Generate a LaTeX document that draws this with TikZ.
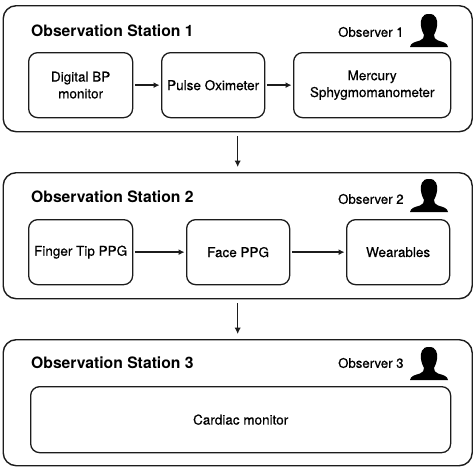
\documentclass[tikz,border=0pt]{standalone}
\usepackage{fontspec}
\setmainfont{TeX Gyre Heros}
\newfontfamily\medfont[FakeBold=0.5]{TeX Gyre Heros}
\usetikzlibrary{arrows.meta}
\definecolor{ink}{HTML}{1C1C1C}
\tikzset{
  station/.style={draw=ink,line width=1.4pt,rounded corners=13pt,inner sep=0pt,minimum width=#1,minimum height=126pt,anchor=north west},
  device/.style={draw=ink,line width=1.3pt,rounded corners=9pt,inner sep=0pt,align=center,font=\medfont\fontsize{13.5}{16.8}\selectfont,text=black,anchor=north west,minimum height=65pt},
  title/.style={font=\bfseries\fontsize{15.7}{18}\selectfont,anchor=west,inner sep=0pt,text=black},
  obs/.style={font=\medfont\fontsize{13.2}{15}\selectfont,anchor=west,inner sep=0pt,text=black},
  flow/.style={draw=ink,line width=1.4pt,-{Latex[length=6pt,width=6pt]},shorten <=1.5pt,shorten >=1.5pt},
  down/.style={draw=ink,line width=1.4pt,-{Latex[length=6.5pt,width=6.5pt]},shorten <=4pt,shorten >=5pt},
  person/.pic={
    \fill[black] (0,-16) .. controls (-7,-16.5) and (-9,-10) .. (-8,-4)
      .. controls (-7.5,0) and (-6,3) .. (-5,5)
      .. controls (-5,8) and (-6,9) .. (-9,10.5)
      .. controls (-14,12) and (-18.5,13) .. (-19,17)
      -- (19,17)
      .. controls (18.5,13) and (14,12) .. (9,10.5)
      .. controls (6,9) and (5,8) .. (5,5)
      .. controls (6,3) and (7.5,0) .. (8,-4)
      .. controls (9,-10) and (7,-16.5) .. (0,-16) -- cycle;
  }
}
\begin{document}
\begin{tikzpicture}[x=1pt,y=-1pt]
\useasboundingbox (0,0) rectangle (474,474);
\fill[white] (0,0) rectangle (474,474);
\node[station=469pt] (s1) at (2.5,5) {};
\node[station=469pt] (s2) at (2.5,172) {};
\node[station=469pt] (s3) at (2.5,339) {};

\node[title] (t1) at (31,31) {Observation Station 1};
\node[title] (t2) at (31,197) {Observation Station 2};
\node[title] (t3) at (31,363) {Observation Station 3};
\node[obs] (o1) at (338,32) {Observer 1};
\node[obs] (o2) at (338,199) {Observer 2};
\node[obs] (o3) at (338,363) {Observer 3};
\pic at (429,30) {person};
\pic at (429,195) {person};
\pic at (429,363) {person};

\node[device,minimum width=104pt] (a1) at (28,52) {Digital BP\\monitor};
\node[device,minimum width=103pt] (a2) at (161,52) {Pulse Oximeter};
\node[device,minimum width=157pt] (a3) at (293,52) {Mercury\\Sphygmomanometer};
\node[device,minimum width=104pt] (b1) at (28,219) {Finger Tip PPG};
\node[device,minimum width=103pt] (b2) at (186,219) {Face PPG};
\node[device,minimum width=103pt] (b3) at (346,219) {Wearables};
\node[device,minimum width=420pt,minimum height=66pt] (c1) at (30,386) {Cardiac monitor};

\draw[flow] (a1) -- (a2);
\draw[flow] (a2) -- (a3);
\draw[flow] (b1) -- (b2);
\draw[flow] (b2) -- (b3);
\draw[down] (s1) -- (s2);
\draw[down] (s2) -- (s3);
\end{tikzpicture}
\end{document}
